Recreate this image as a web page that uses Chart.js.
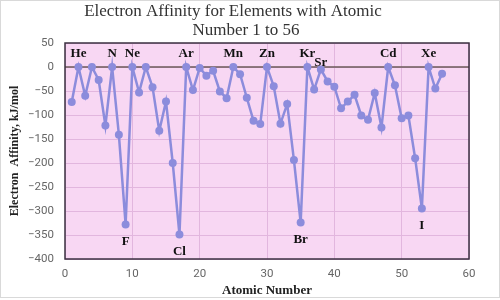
<!DOCTYPE html>
<html>
<head>
<meta charset="utf-8">
<script src="https://cdn.jsdelivr.net/npm/chart.js@4"></script>
<style>
html, body { margin: 0; padding: 0; background: #fff; }
#wrap { width: 500px; height: 300px; }
</style>
</head>
<body>
<div id="wrap"><canvas id="eaChart"></canvas></div>
<script>
// atomic number 1..56
const atomicNumbers = [1, 2, 3, 4, 5, 6, 7, 8, 9, 10, 11, 12, 13, 14, 15, 16, 17, 18, 19, 20,
    21, 22, 23, 24, 25, 26, 27, 28, 29, 30, 31, 32, 33, 34, 35, 36, 37, 38, 39, 40,
    41, 42, 43, 44, 45, 46, 47, 48, 49, 50, 51, 52, 53, 54, 55, 56];
// electron affinity, kJ/mol
const affinity = [-73, 0, -60, 0, -27, -122, 0, -141, -328, 0, -53, 0, -42, -133, -72, -200, -349, 0, -48, -2,
    -18, -8, -51, -65, 0, -15, -64, -112, -119, 0, -40, -118, -77, -194, -324, 0, -47, -5, -30, -41,
    -86, -72, -58, -101, -110, -54, -126, 0, -38, -107, -101, -190, -295, 0, -45, -14];

// labelled elements
const topNames = ['He', 'N', 'Ne', 'Ar', 'Mn', 'Zn', 'Kr', 'Sr', 'Cd', 'Xe'];
const topAtoms = [2, 7, 10, 18, 25, 30, 36, 38, 48, 54];
const bottomNames = ['F', 'Cl', 'Br', 'I'];
const bottomAtoms = [9, 17, 35, 53];

const titleLines = ['Electron Affinity for Elements with Atomic', 'Number 1 to 56'];

const serif = '"Liberation Serif", "Times New Roman", serif';

let extras = {
    id: 'extras',
    beforeDraw(chart) {
        const { ctx, chartArea: a } = chart;
        ctx.save();
        ctx.fillStyle = '#f8d7f3';
        ctx.fillRect(a.left, a.top, a.right - a.left, a.bottom - a.top);
        ctx.restore();
    },
    beforeDatasetsDraw(chart) {
        const { ctx, chartArea: a, scales } = chart;
        ctx.save();
        // zero line
        const y0 = scales.y.getPixelForValue(0);
        ctx.strokeStyle = '#6b5858';
        ctx.lineWidth = 1.5;
        ctx.beginPath();
        ctx.moveTo(a.left, y0);
        ctx.lineTo(a.right, y0);
        ctx.stroke();
        // plot border
        ctx.strokeStyle = '#3b3140';
        ctx.lineWidth = 1.5;
        ctx.strokeRect(a.left, a.top, a.right - a.left, a.bottom - a.top);
        ctx.restore();
    },
    afterDraw(chart) {
        const { ctx, scales } = chart;
        ctx.save();
        // outer frame
        ctx.strokeStyle = '#d9d9d9';
        ctx.lineWidth = 1;
        ctx.strokeRect(0.5, 0.5, 499, 297);
        // title
        ctx.fillStyle = '#333';
        ctx.font = '17px ' + serif;
        ctx.textAlign = 'center';
        ctx.textBaseline = 'alphabetic';
        ctx.fillText(titleLines[0], 233, 16);
        ctx.fillText(titleLines[1], 246, 35);
        // element labels
        ctx.fillStyle = '#111';
        ctx.font = 'bold 13px ' + serif;
        ctx.textBaseline = 'middle';
        topNames.forEach((name, i) => {
            const n = topAtoms[i];
            const x = scales.x.getPixelForValue(n);
            const y = scales.y.getPixelForValue(affinity[n - 1]) - (name === 'Sr' ? 7 : 13);
            ctx.fillText(name, x, y);
        });
        bottomNames.forEach((name, i) => {
            const n = bottomAtoms[i];
            const x = scales.x.getPixelForValue(n);
            const y = scales.y.getPixelForValue(affinity[n - 1]) + 17;
            ctx.fillText(name, x, y);
        });
        ctx.restore();
    }
};

let makeChart = function() {
    const ctx = document.getElementById('eaChart');

    new Chart(ctx, {
        type: 'line',
        data: {
            datasets: [
                {
                    label: 'Electron Affinity',
                    data: atomicNumbers.map((n, i) => ({ x: n, y: affinity[i] })),
                    borderColor: '#8c8cdc',
                    backgroundColor: '#8c8cdc',
                    borderWidth: 2.5,
                    pointRadius: 4,
                    pointBorderWidth: 0,
                    tension: 0,
                },
            ]
        },
        options: {
            maintainAspectRatio: false,
            animation: false,
            responsive: true,
            layout: {
                padding: { top: 43, right: 31, left: 0, bottom: 0 }
            },
            plugins: {
                legend: { display: false },
                tooltip: { enabled: false },
            },
            scales: {
                x: {
                    type: 'linear',
                    min: 0,
                    max: 60,
                    afterFit: (scale) => { scale.height = 41; },
                    ticks: {
                        stepSize: 10,
                        padding: 8,
                        color: '#666',
                        font: { family: 'Roboto', size: 11.5 },
                    },
                    grid: { color: '#e2b6de', drawTicks: false },
                    border: { display: false },
                    title: {
                        display: true,
                        text: 'Atomic Number',
                        color: '#222',
                        padding: { top: 2, bottom: 2 },
                        font: { family: serif, size: 13, weight: 'bold' },
                    },
                },
                y: {
                    min: -400,
                    max: 50,
                    afterFit: (scale) => { scale.width = 65; },
                    ticks: {
                        stepSize: 50,
                        padding: 11,
                        color: '#666',
                        font: { family: 'Roboto', size: 11.5 },
                        callback: (v) => String(v).replace('-', '\u2212'),
                    },
                    grid: { color: '#e2b6de', drawTicks: false },
                    border: { display: false },
                    title: {
                        display: true,
                        text: 'Electron  Affinity, kJ/mol',
                        color: '#222',
                        padding: { top: 8, bottom: 0 },
                        font: { family: serif, size: 12, weight: 'bold' },
                    },
                },
            }
        },
        plugins: [extras]
    });
}

document.addEventListener('DOMContentLoaded', makeChart, false);
</script>
</body>
</html>
